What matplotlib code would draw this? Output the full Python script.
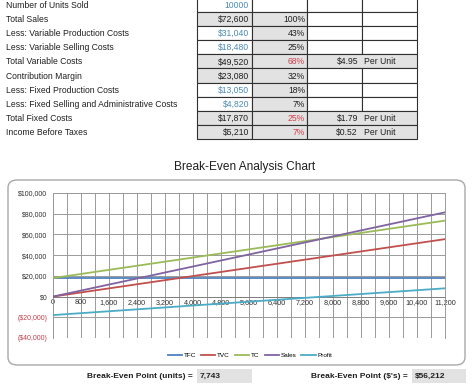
import matplotlib
matplotlib.use('Agg')
from matplotlib import pyplot as plt
from matplotlib.patches import Rectangle, FancyBboxPatch
from matplotlib.ticker import FuncFormatter, MultipleLocator

plt.rcParams['font.family'] = ['Liberation Sans', 'DejaVu Sans']

# table data
row_labels = ['Number of Units Sold', 'Total Sales', 'Less: Variable Production Costs',
              'Less: Variable Selling Costs', 'Total Variable Costs', 'Contribution Margin',
              'Less: Fixed Production Costs', 'Less: Fixed Selling and Administrative Costs',
              'Total Fixed Costs', 'Income Before Taxes']
row_values = ['10000', '$72,600', '$31,040', '$18,480', '$49,520', '$23,080',
              '$13,050', '$4,820', '$17,870', '$5,210']
row_pcts = ['', '100%', '43%', '25%', '68%', '32%', '18%', '7%', '25%', '7%']
per_unit = {4: '$4.95', 8: '$1.79', 9: '$0.52'}
blue_rows = [0, 2, 3, 6, 7]
red_pct_rows = [4, 8, 9]

# chart data (endpoints of each straight line)
units = [0, 11200]
tfc = [17870, 17870]
tvc = [0, 55460]
tc = [17870, 73330]
sales = [0, 81310]
profit = [-17870, 7980]
series = [('TFC', tfc, '#4F81BD'), ('TVC', tvc, '#C0504D'), ('TC', tc, '#9BBB59'),
          ('Sales', sales, '#8064A2'), ('Profit', profit, '#4BACC6')]

be_units = '7,743'
be_dollars = '$56,212'

W, H = 474, 386
fig = plt.figure(figsize=(W / 100, H / 100), dpi=100)


def fx(x):
    return x / W


def fy(y):
    return 1 - y / H


def rect(x0, y0, x1, y1, fc='white', ec='#303030', lw=0.8):
    fig.patches.append(Rectangle((fx(x0), fy(y1)), fx(x1 - x0), (y1 - y0) / H,
                                 transform=fig.transFigure, facecolor=fc,
                                 edgecolor=ec, linewidth=lw))


GRAY = '#E2E2E2'
BLUE = '#4A8AB5'
RED = '#D2404F'
cols = [197, 252, 307, 362, 417]
top0, rh = -2.3, 14.15
fs = 6.25
for i, lab in enumerate(row_labels):
    y0 = top0 + i * rh
    y1 = y0 + rh
    yc = (y0 + y1) / 2 + 0.5
    fig.text(fx(6), fy(yc), lab, fontsize=fs, ha='left', va='center', color='#202020')
    # value column
    vfc = 'white' if (i in blue_rows) else GRAY
    rect(cols[0], y0, cols[1], y1, fc=vfc)
    fig.text(fx(cols[1] - 3), fy(yc), row_values[i], fontsize=fs, ha='right', va='center',
             color=BLUE if i in blue_rows else '#202020')
    # percent column
    rect(cols[1], y0, cols[2], y1, fc='white' if i == 0 else GRAY)
    if row_pcts[i]:
        fig.text(fx(cols[2] - 2), fy(yc), row_pcts[i], fontsize=fs, ha='right', va='center',
                 color=RED if i in red_pct_rows else '#202020')
    # per unit columns
    if i in per_unit:
        rect(cols[2], y0, cols[4], y1, fc=GRAY)
        fig.text(fx(cols[3] - 4), fy(yc), per_unit[i], fontsize=fs, ha='right', va='center',
                 color='#202020')
        fig.text(fx(cols[3] + 2), fy(yc), 'Per Unit', fontsize=fs, ha='left', va='center',
                 color='#202020')
    else:
        rect(cols[2], y0, cols[3], y1)
        rect(cols[3], y0, cols[4], y1)

# chart frame
frame = FancyBboxPatch((fx(8), fy(365)), fx(457), (365 - 180) / H,
                       boxstyle='round,pad=0,rounding_size=0.02',
                       transform=fig.transFigure, facecolor='white',
                       edgecolor='#A8A8A8', linewidth=1.0, zorder=-5)
fig.patches.append(frame)
fig.text(fx(245), fy(167), 'Break-Even Analysis Chart', fontsize=8.6, ha='center',
         va='center', color='#202020')

ax = fig.add_axes([fx(53), fy(338), fx(445 - 53), (338 - 193) / H])
ax.set_zorder(2)
ax.patch.set_alpha(0)
for name, vals, c in series:
    ax.plot(units, vals, color=c, linewidth=1.3, label=name, zorder=3)
ax.set_xlim(0, 11200)
ax.set_ylim(-40000, 100000)
ax.xaxis.set_major_locator(MultipleLocator(800))
ax.xaxis.set_minor_locator(MultipleLocator(400))
ax.yaxis.set_major_locator(MultipleLocator(20000))
ax.grid(which='both', axis='x', color='#9A9A9A', linewidth=0.7)
ax.grid(which='major', axis='y', color='#9A9A9A', linewidth=0.7)
for s in ax.spines.values():
    s.set_color('#9A9A9A')
    s.set_linewidth(0.7)
ax.spines['bottom'].set_position(('data', 0))
ax.spines['bottom'].set_color('#808080')
ax.tick_params(which='both', length=0, colors='#303030', pad=2)
ax.tick_params(axis='x', labelsize=5.2)
ax.tick_params(axis='y', labelsize=5.0, pad=4)
ax.xaxis.set_major_formatter(FuncFormatter(lambda v, p: f'{v:,.0f}'))


def yfmt(v, p):
    if v < 0:
        return f'(${-v:,.0f})'
    return f'${v:,.0f}'


ax.yaxis.set_major_formatter(FuncFormatter(yfmt))
fig.canvas.draw()
for t in ax.get_yticklabels():
    if t.get_text().startswith('('):
        t.set_color('#C0404A')

leg = ax.legend(loc='center', bbox_to_anchor=(fx(250), fy(355)),
                bbox_transform=fig.transFigure, ncol=5, frameon=False, fontsize=4.6,
                handlelength=2.2, handletextpad=0.3, columnspacing=0.8)

# break-even boxes
rect(197, 369, 252, 383, fc=GRAY, ec='none')
rect(412, 369, 466, 383, fc=GRAY, ec='none')
bfs = 6.0
fig.text(fx(195), fy(376.5), 'Break-Even Point (units) = ', fontsize=bfs, ha='right',
         va='center', fontweight='bold', color='#202020')
fig.text(fx(200), fy(376.5), be_units, fontsize=bfs, ha='left', va='center',
         fontweight='bold', color='#202020')
fig.text(fx(410), fy(376.5), "Break-Even Point ($'s) = ", fontsize=bfs, ha='right',
         va='center', fontweight='bold', color='#202020')
fig.text(fx(415), fy(376.5), be_dollars, fontsize=bfs, ha='left', va='center',
         fontweight='bold', color='#202020')

plt.savefig('out.png', dpi=100)
